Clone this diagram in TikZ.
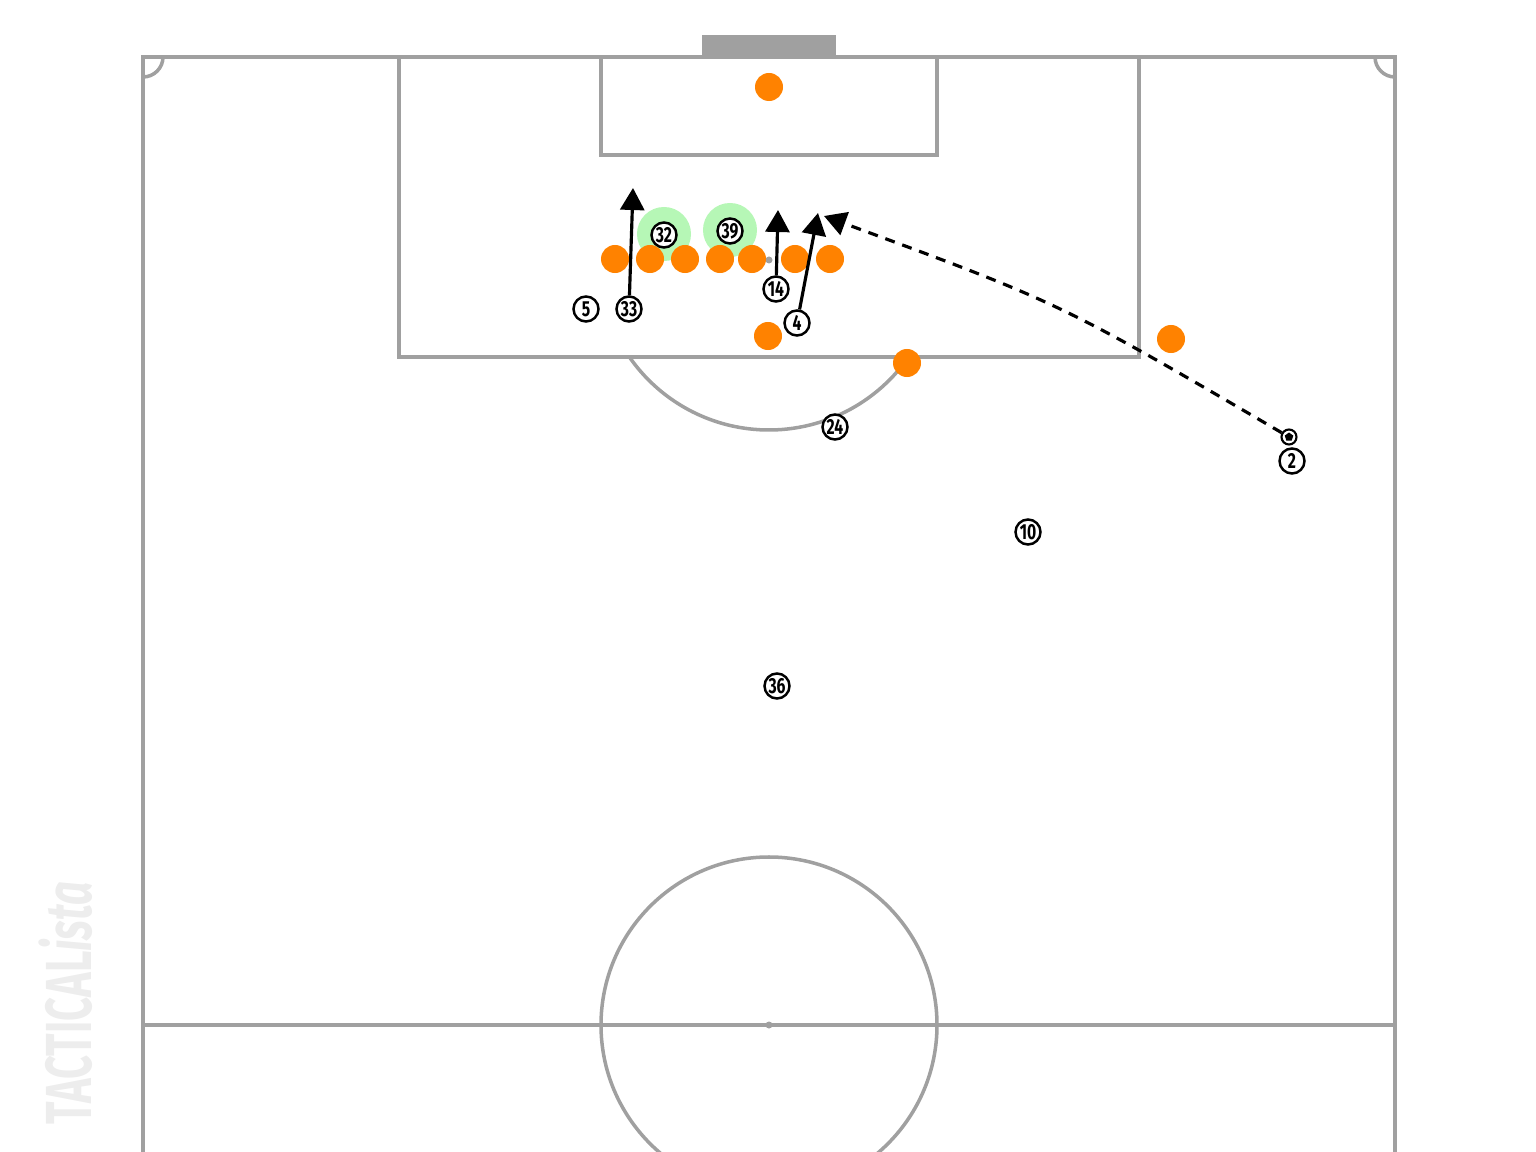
\documentclass[tikz,border=0pt]{standalone}
\usepackage{fontspec}
\setsansfont{Fira Sans}
\usetikzlibrary{arrows.meta, shapes.geometric}

\definecolor{linegrey}{HTML}{A0A0A0}
\definecolor{oppcol}{HTML}{FF8200}
\definecolor{halocol}{HTML}{B6F7B6}
\definecolor{wmgrey}{HTML}{EDEDED}

\tikzset{
  pitch/.style={draw=linegrey, line width=1pt},
  opp/.style={circle, fill=oppcol, minimum size=0.28cm, inner sep=0pt},
  mate/.style={circle, draw=black, fill=white, line width=0.7pt, minimum size=0.25cm, inner sep=0pt,
    font=\sffamily\bfseries\fontsize{6.2}{6.5}\selectfont},
  halo/.style={circle, fill=halocol, minimum size=0.54cm, inner sep=0pt},
  run/.style={line width=0.9pt, -{Triangle[length=0.22cm, width=0.24cm]}},
  pass/.style={run, dash pattern=on 0.1cm off 0.08cm}
}

\newcommand{\shirt}[1]{\scalebox{0.72}[1]{#1}}

\begin{document}
\begin{tikzpicture}[x=0.01cm, y=-0.01cm]
  \useasboundingbox (0,0) rectangle (1536,1152);
  \clip (0,0) rectangle (1536,1152);

  % Watermark
  \node[rotate=90, text=wmgrey, font=\sffamily\bfseries\fontsize{18.5}{18.5}\selectfont] (brand) at (66,1003)
    {\scalebox{0.64}[1]{TACTICAL\textit{ista}}};

  % Pitch markings
  \draw[pitch] (143,1200) -- (143,57) -- (1395,57) -- (1395,1200);
  \draw[pitch] (143,1025) -- (1395,1025);
  \draw[pitch] (399,57) rectangle (1139,357);
  \draw[pitch] (601,57) rectangle (937,155);
  \fill[linegrey] (702,35) rectangle (836,57);
  \draw[pitch] (163,57) arc[start angle=0, end angle=90, radius=20];
  \draw[pitch] (1375,57) arc[start angle=180, end angle=90, radius=20];
  \draw[pitch] (769,260) ++(35:170) arc[start angle=35, end angle=145, radius=170];
  \draw[pitch] (769,1025) circle[radius=168];
  \fill[linegrey] (769,260) circle[radius=3.5];
  \fill[linegrey] (769,1025) circle[radius=3.5];

  % Free players in the box
  \node[halo] (h32) at (664,234) {};
  \node[halo] (h39) at (730,230) {};

  % Defending side
  \node[opp] (keeper) at (769,87) {};
  \node[opp] (o1) at (615,259) {};
  \node[opp] (o2) at (650,259) {};
  \node[opp] (o3) at (685,259) {};
  \node[opp] (o4) at (720,259) {};
  \node[opp] (o5) at (752,259) {};
  \node[opp] (o6) at (795,259) {};
  \node[opp] (o7) at (830,259) {};
  \node[opp] (o8) at (768,336) {};
  \node[opp] (o9) at (907,363) {};
  \node[opp] (o10) at (1171,339) {};

  % Attacking side
  \node[mate] (p5) at (586,309) {\shirt{5}};
  \node[mate] (p33) at (629,309) {\shirt{33}};
  \node[mate] (p32) at (664,235) {\shirt{32}};
  \node[mate] (p39) at (730,231) {\shirt{39}};
  \node[mate] (p14) at (776,289) {\shirt{14}};
  \node[mate] (p4) at (797,323) {\shirt{4}};
  \node[mate] (p24) at (835,427) {\shirt{24}};
  \node[mate] (p2) at (1292,461) {\shirt{2}};
  \node[mate] (p10) at (1028,532) {\shirt{10}};
  \node[mate] (p36) at (777,686) {\shirt{36}};

  % Ball
  \node[circle, draw=black, fill=white, line width=0.6pt, minimum size=0.15cm, inner sep=0pt] (ball) at (1289,437) {};
  \node[regular polygon, regular polygon sides=5, fill=black, minimum size=0.09cm, inner sep=0pt] (patch) at (ball) {};

  % Runs and the cross
  \coordinate (t33) at (633,188);
  \coordinate (t14) at (778,210);
  \coordinate (t4) at (818,213);
  \coordinate (tcross) at (824,216);
  \draw[run] (p33) -- (t33);
  \draw[run] (p14) -- (t14);
  \draw[run] (p4) -- (t4);
  \draw[pass] (ball) .. controls (1060,303) .. (tcross);
\end{tikzpicture}
\end{document}
